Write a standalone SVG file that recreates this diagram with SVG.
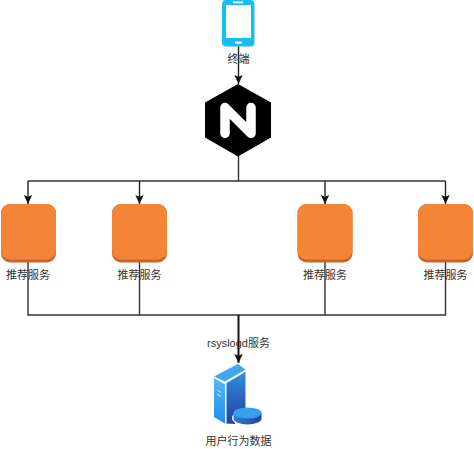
<svg xmlns="http://www.w3.org/2000/svg" width="474" height="449" viewBox="0 0 474 449">
<style>
text{font-family:"Liberation Sans","Noto Sans CJK SC",sans-serif;font-size:11px;fill:#333;text-anchor:middle}
.c{fill:none;stroke:#333;stroke-width:1.400}
.a{fill:none;stroke:#222;stroke-width:1.400;marker-end:url(#m)}
.h{stroke:#111;stroke-width:2}
.body{fill:#f58536}
.base{fill:#c8652a}
</style>
<defs>
<marker id="m" markerUnits="userSpaceOnUse" markerWidth="10" markerHeight="10" refX="9" refY="5" orient="auto"><path d="M0 0.800L9 5L0 9.200L1.800 5Z" fill="#111"/></marker>
<linearGradient id="sf" x1="0" y1="0" x2="0" y2="1"><stop offset="0" stop-color="#56b8f0"/><stop offset="1" stop-color="#1c8cf0"/></linearGradient>
<linearGradient id="ss" x1="0" y1="0" x2="0" y2="1"><stop offset="0" stop-color="#2d8ee0"/><stop offset="1" stop-color="#283f9e"/></linearGradient>
<linearGradient id="dk" x1="0" y1="0" x2="1" y2="0"><stop offset="0" stop-color="#2f7fd8"/><stop offset="1" stop-color="#243f9c"/></linearGradient>
<g id="svc">
<rect x="0" y="0" width="55" height="58.500" rx="9" class="base"/>
<rect x="0" y="0" width="55" height="55.500" rx="9" class="body"/>
</g>
</defs>
<g id="connectors">
<path class="a" d="M238.500 46V84"/>
<path class="c" d="M238.500 156V181M28 181H445.500"/>
<path class="a" d="M28 181V204"/>
<path class="a" d="M139.500 181V204"/>
<path class="a" d="M325 181V204"/>
<path class="a" d="M445.500 181V204"/>
<path class="c" d="M28 262V315H445.500V262M139.500 262V315M325 262V315"/>
<path class="a h" d="M238.500 315V363"/>
</g>
<g id="terminal">
<rect x="222" y="0" width="32.500" height="46.500" rx="4" fill="#18bdf2"/>
<rect x="226" y="5" width="25" height="33" fill="#fff"/>
<rect x="233" y="1.500" width="10" height="1.800" fill="#fff"/>
<rect x="235" y="41.500" width="7" height="2.200" rx="1" fill="#fff"/>
<text x="238.500" y="63">终端</text>
</g>
<g id="nginx">
<path d="M238 84L271 102.500V137.500L238 156.500L205 137.500V102.500Z" fill="#000"/>
<path d="M225 133.500V107.500L251 133.500V107.500" fill="none" stroke="#fff" stroke-width="9.500" stroke-linecap="round" stroke-linejoin="round"/>
</g>
<g id="svc1"><use href="#svc" x="1" y="204"/><text x="28" y="279">推荐服务</text></g>
<g id="svc2"><use href="#svc" x="112" y="204"/><text x="139.500" y="279">推荐服务</text></g>
<g id="svc3"><use href="#svc" x="297.500" y="204"/><text x="325" y="279">推荐服务</text></g>
<g id="svc4"><use href="#svc" x="418" y="204"/><text x="445.500" y="279">推荐服务</text></g>
<g id="rsyslog"><text x="238.500" y="347">rsyslogd服务</text></g>
<g id="data">
<path d="M212.500 376L238 362.500L247 369V424H226L212.500 418Z" fill="#fff"/>
<path d="M214 378L225 384.500V423.500L214 417Z" fill="url(#sf)"/>
<path d="M214 376.500L238 364L245.500 369.500L225 381.500Z" fill="#3fa8f0"/>
<path d="M226.500 383L245.500 372V412L235 417V424L226.500 423.500Z" fill="url(#ss)"/>
<path d="M217 390L221 392.500M217 394L221 396.500" stroke="#a9d8fa" stroke-width="1.200"/>
<ellipse cx="247.500" cy="418" rx="15.500" ry="8" fill="#fff"/>
<path d="M233.500 413V418.500A14 6 0 0 0 261.500 418.500V413Z" fill="url(#dk)"/>
<ellipse cx="247.500" cy="413" rx="14" ry="5.500" fill="#36a0ee"/>
<text x="238.500" y="445">用户行为数据</text>
</g>
</svg>
